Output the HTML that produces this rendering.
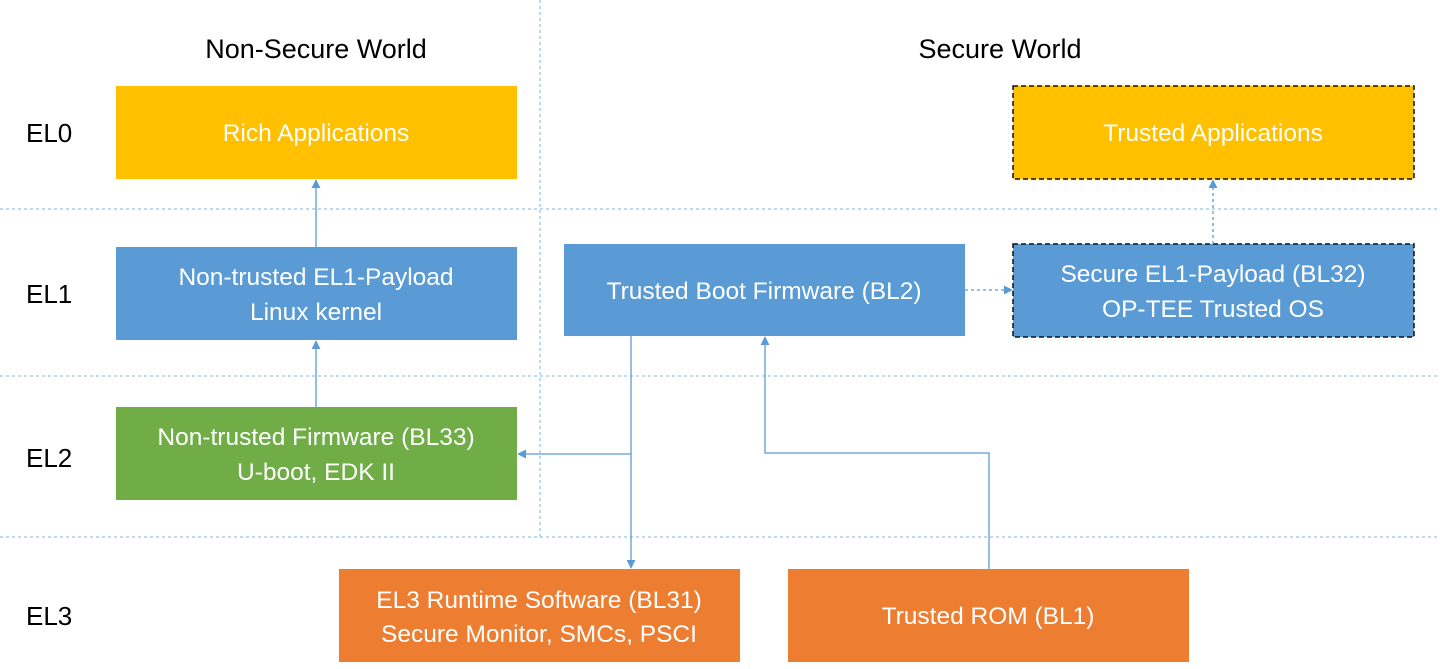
<!DOCTYPE html>
<html><head><meta charset="utf-8"><style>
html,body{margin:0;padding:0;background:#fff;}
svg{display:block;font-family:"Liberation Sans",sans-serif;}
.bt{fill:#fff;font-size:24.5px;text-anchor:middle;}
.lb{fill:#000;font-size:26px;}
</style></head><body>
<svg width="1440" height="669" viewBox="0 0 1440 669">
<defs>
<marker id="a" viewBox="0 0 10 10" refX="9" refY="5" markerWidth="9" markerHeight="9" orient="auto" markerUnits="userSpaceOnUse"><path d="M0,0L10,5L0,10z" fill="#5B9BD5"/></marker>
</defs>
<g stroke="#9DC3E6" stroke-width="1.3" stroke-dasharray="3,3">
<line x1="540" y1="0" x2="540" y2="537"/>
<line x1="0" y1="209" x2="1440" y2="209"/>
<line x1="0" y1="376" x2="1440" y2="376"/>
<line x1="0" y1="537" x2="1440" y2="537"/>
</g>
<text class="lb" x="316" y="58" text-anchor="middle" style="font-size:27px">Non-Secure World</text>
<text class="lb" x="1000" y="58" text-anchor="middle" style="font-size:27px">Secure World</text>
<text class="lb" x="26" y="142">EL0</text>
<text class="lb" x="26" y="303">EL1</text>
<text class="lb" x="26" y="467">EL2</text>
<text class="lb" x="26" y="625">EL3</text>

<rect x="116" y="86" width="401" height="93" fill="#FFC000"/>
<text class="bt" x="316" y="141">Rich Applications</text>
<rect x="1013" y="86" width="401" height="93" fill="#FFC000" stroke="#111" stroke-width="1.5" stroke-dasharray="5,3"/>
<text class="bt" x="1213" y="141">Trusted Applications</text>

<rect x="116" y="247" width="401" height="93" fill="#5B9BD5"/>
<text class="bt" x="316" y="285">Non-trusted EL1-Payload</text>
<text class="bt" x="316" y="320">Linux kernel</text>
<rect x="564" y="244" width="401" height="92" fill="#5B9BD5"/>
<text class="bt" x="764" y="299">Trusted Boot Firmware (BL2)</text>
<rect x="1013" y="244" width="401" height="93" fill="#5B9BD5" stroke="#111" stroke-width="1.5" stroke-dasharray="5,3"/>
<text class="bt" x="1213" y="282">Secure EL1-Payload (BL32)</text>
<text class="bt" x="1213" y="317">OP-TEE Trusted OS</text>

<rect x="116" y="407" width="401" height="93" fill="#70AD47"/>
<text class="bt" x="316" y="445">Non-trusted Firmware (BL33)</text>
<text class="bt" x="316" y="480">U-boot, EDK II</text>

<rect x="339" y="569" width="401" height="93" fill="#ED7D31"/>
<text class="bt" x="539" y="608">EL3 Runtime Software (BL31)</text>
<text class="bt" x="539" y="642">Secure Monitor, SMCs, PSCI</text>
<rect x="788" y="569" width="401" height="93" fill="#ED7D31"/>
<text class="bt" x="988" y="624">Trusted ROM (BL1)</text>

<g stroke="#5B9BD5" stroke-width="1.3" fill="none">
<line x1="316" y1="247" x2="316" y2="180" marker-end="url(#a)"/>
<line x1="316" y1="407" x2="316" y2="341" marker-end="url(#a)"/>
<line x1="631" y1="336" x2="631" y2="568" marker-end="url(#a)"/>
<line x1="631" y1="454" x2="518" y2="454" marker-end="url(#a)"/>
<polyline points="989,569 989,453 765,453 765,337" marker-end="url(#a)"/>
<line x1="965" y1="290" x2="1012" y2="290" stroke-dasharray="3,3" marker-end="url(#a)"/>
<line x1="1213" y1="244" x2="1213" y2="180" stroke-dasharray="3,3" marker-end="url(#a)"/>
</g>
</svg>
</body></html>
